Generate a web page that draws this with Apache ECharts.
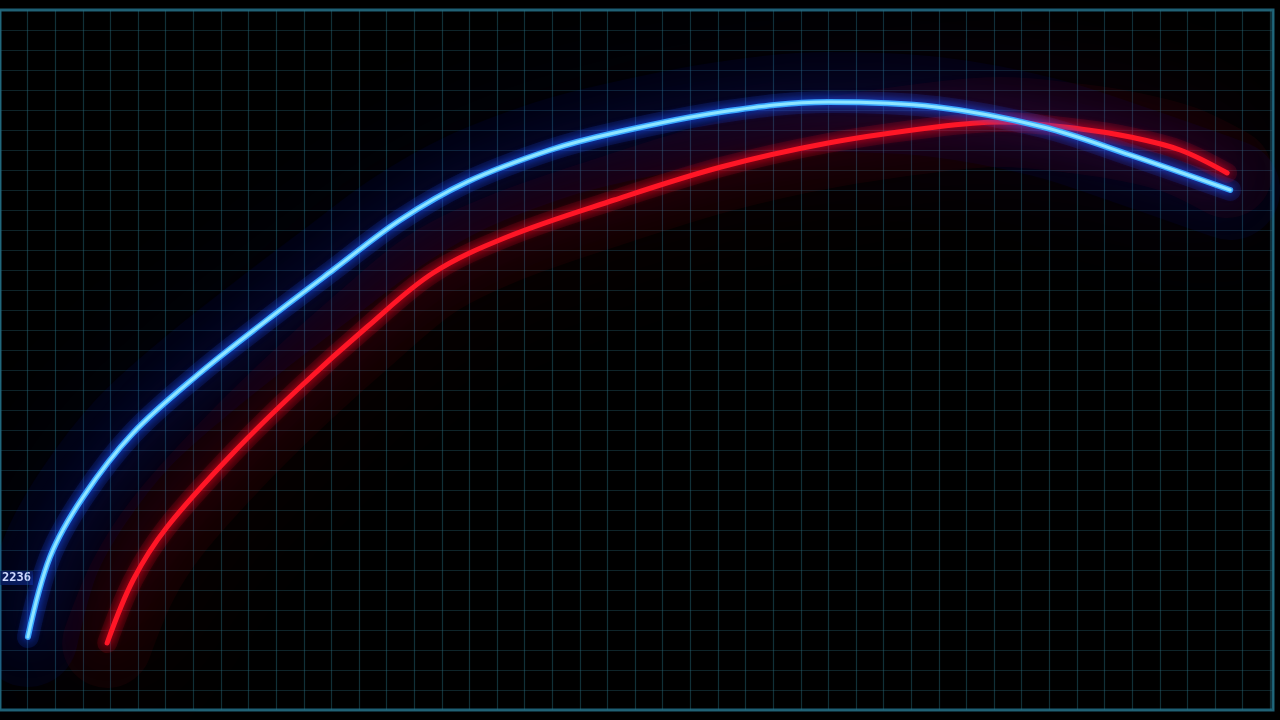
<!DOCTYPE html>
<html>
<head>
<meta charset="utf-8">
<script src="https://cdn.jsdelivr.net/npm/echarts@6/dist/echarts.min.js"></script>
<style>html,body{margin:0;padding:0;background:#000;}#c{width:1280px;height:720px;}</style>
</head>
<body>
<div id="c"></div>
<script>
const blueX = [0.01, 0.81, 2.01, 3.82, 6.24, 8.67, 11.06, 13.49, 15.91, 18.92, 21.24, 25.11, 28.99, 32.9, 36.78, 39.93, 43.55];
const blueY = [3.65, 7.65, 10.65, 13.85, 16.85, 19.5, 22.0, 24.5, 26.4, 28.0, 28.85, 29.9, 30.4, 30.15, 29.15, 27.75, 26.0];
const redX = [2.88, 3.82, 5.05, 7.44, 9.87, 12.29, 14.68, 17.36, 21.24, 25.11, 28.99, 32.9, 35.22, 38.12, 39.93, 41.74, 43.44];
const redY = [3.35, 6.5, 9.15, 12.85, 16.15, 19.15, 21.85, 23.65, 25.5, 27.15, 28.35, 29.15, 29.4, 29.05, 28.65, 28.0, 26.85];
const cornerLabel = '2236';

const pairs = (xs, ys) => xs.map((x, i) => [x, ys[i]]);
const blue = pairs(blueX, blueY);
const red = pairs(redX, redY);

const chart = echarts.init(document.getElementById('c'));
const line = (data, color, width, blur, shadow, z) => ({
  type: 'line', data, smooth: 0.35, symbol: 'none', silent: true, z,
  lineStyle: { color, width, shadowBlur: blur, shadowColor: shadow, cap: 'round', join: 'round' }
});
chart.setOption({
  backgroundColor: '#000',
  animation: false,
  grid: { left: 0, right: 7, top: 10, bottom: 10, show: true, borderColor: '#1d5f74', borderWidth: 3 },
  xAxis: { type: 'value', min: -1, max: 45.1, interval: 1,
    axisLine: { show: false }, axisTick: { show: false }, axisLabel: { show: false },
    splitLine: { lineStyle: { color: 'rgba(40,115,130,0.42)', width: 1.2 } } },
  yAxis: { type: 'value', min: 0, max: 35, interval: 1,
    axisLine: { show: false }, axisTick: { show: false }, axisLabel: { show: false },
    splitLine: { lineStyle: { color: 'rgba(40,105,120,0.34)', width: 1.2 } } },
  graphic: [{
    type: 'text', left: 0, top: 571,
    style: { text: cornerLabel, fill: '#e8f0ff', font: 'bold 12px "DejaVu Sans Mono"', backgroundColor: '#0a1a4a', padding: [1, 2] }
  }],
  series: [
    line(blue, 'rgba(20,50,255,0.06)', 100, 120, 'rgba(20,50,255,1)', 1),
    line(red, 'rgba(255,10,30,0.05)', 90, 120, 'rgba(255,10,30,1)', 1),
    line(blue, 'rgba(30,80,255,0.14)', 22, 45, 'rgba(30,80,255,1)', 2),
    line(red, 'rgba(255,20,40,0.12)', 20, 45, 'rgba(255,20,40,1)', 2),
    line(red, '#ff1626', 5, 10, '#ff0020', 3),
    line(blue, '#3aa8ff', 6, 10, '#1a50ff', 4),
    line(blue, '#8fe6ff', 3, 0, 'transparent', 5)
  ]
});
</script>
</body>
</html>
